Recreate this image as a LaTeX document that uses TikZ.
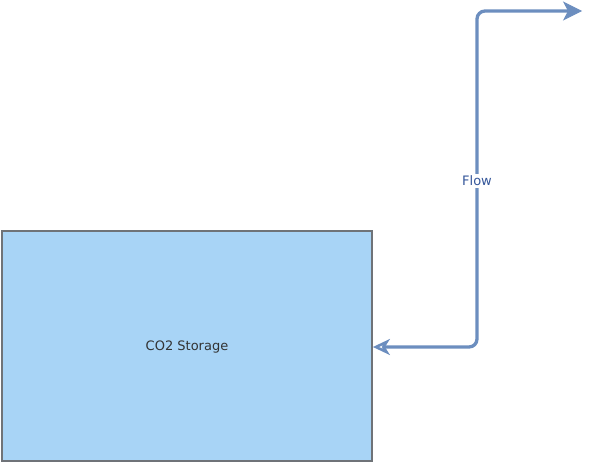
\documentclass[tikz,border=0pt]{standalone}
\usepackage{fontspec}
\setmainfont{DejaVu Sans}
\usetikzlibrary{arrows.meta}
\definecolor{flowblue}{HTML}{6C8EBF}
\definecolor{boxfill}{HTML}{A8D4F6}
\definecolor{boxline}{HTML}{6F7378}
\definecolor{flowtext}{HTML}{34569A}
\definecolor{labeltext}{HTML}{333333}
\tikzset{
  storagebox/.style={draw=boxline, line width=1.8pt, fill=boxfill, inner sep=0pt},
  flowline/.style={draw=flowblue, line width=3.3pt, rounded corners=8pt},
  flowlabel/.style={fill=white, text=flowtext, font=\fontsize{13}{15}\selectfont, inner sep=2pt}
}
\begin{document}
\begin{tikzpicture}[x=1pt,y=-1pt]
\useasboundingbox (0,0) rectangle (594,463);
\node[storagebox, minimum width=370pt, minimum height=230pt] (store) at (187,346) {};
\node[text=labeltext, font=\fontsize{13}{15}\selectfont] (storelabel) at (187,347) {CO2 Storage};
\coordinate (out) at (582,11);
\coordinate (bend1) at (477,11);
\coordinate (bend2) at (477,347);
\draw[flowline, {Stealth[open, fill=white, length=17pt, width=16pt, inset=5pt, line width=2.6pt]}-{Stealth[length=19pt, width=19pt, inset=5pt, line width=1pt]}]
  (store.east |- bend2) -- (bend2) -- (bend1) -- (out);
\node[flowlabel] (flowlbl) at (477,181) {Flow};
\end{tikzpicture}
\end{document}
